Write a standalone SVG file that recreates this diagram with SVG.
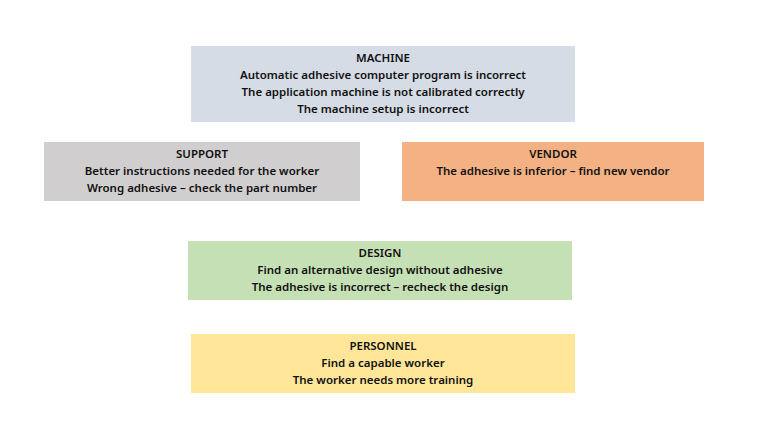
<svg xmlns="http://www.w3.org/2000/svg" width="768" height="433" viewBox="0 0 768 433">
<style>
text{font-family:"Noto Sans","Liberation Sans",sans-serif;font-size:11.5px;font-weight:600;fill:#111;text-anchor:middle}
</style>
<rect width="768" height="433" fill="#fff"/>
<g id="connectors"/>
<g id="machine">
<rect x="191" y="46" width="384" height="76" fill="#d6dce5"/>
<text x="383" y="62">MACHINE</text>
<text x="383" y="79">Automatic adhesive computer program is incorrect</text>
<text x="383" y="96">The application machine is not calibrated correctly</text>
<text x="383" y="113">The machine setup is incorrect</text>
</g>
<g id="support">
<rect x="44" y="142" width="316" height="59" fill="#d0cece"/>
<text x="202" y="158">SUPPORT</text>
<text x="202" y="175">Better instructions needed for the worker</text>
<text x="202" y="192">Wrong adhesive – check the part number</text>
</g>
<g id="vendor">
<rect x="402" y="142" width="302" height="59" fill="#f4b183"/>
<text x="553" y="158">VENDOR</text>
<text x="553" y="175">The adhesive is inferior – find new vendor</text>
</g>
<g id="design">
<rect x="188" y="241" width="384" height="59" fill="#c5e0b4"/>
<text x="380" y="257">DESIGN</text>
<text x="380" y="274">Find an alternative design without adhesive</text>
<text x="380" y="291">The adhesive is incorrect – recheck the design</text>
</g>
<g id="personnel">
<rect x="191" y="334" width="384" height="59" fill="#ffe699"/>
<text x="383" y="350">PERSONNEL</text>
<text x="383" y="367">Find a capable worker</text>
<text x="383" y="384">The worker needs more training</text>
</g>
</svg>
